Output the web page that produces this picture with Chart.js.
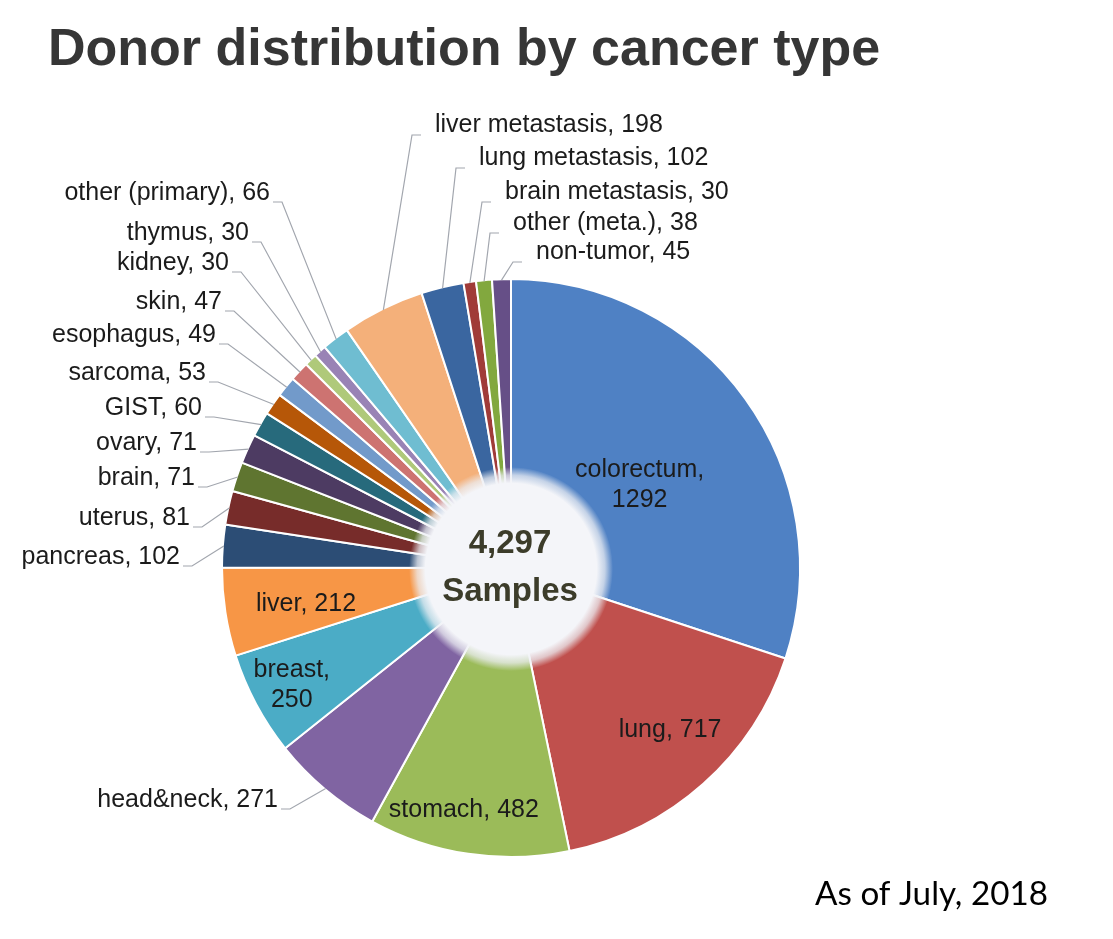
<!DOCTYPE html>
<html>
<head>
<meta charset="utf-8">
<script src="https://cdn.jsdelivr.net/npm/chart.js@4"></script>
<style>
  body { margin: 0; background: #fff; }
  canvas { display: block; }
</style>
</head>
<body>
<canvas id="donorChart" width="1113" height="939"></canvas>
<script>
// Data (clockwise from 12 o'clock)
const cancerTypes = [
    "colorectum", "lung", "stomach", "head&neck", "breast", "liver",
    "pancreas", "uterus", "brain", "ovary", "GIST", "sarcoma",
    "esophagus", "skin", "kidney", "thymus", "other (primary)",
    "liver metastasis", "lung metastasis", "brain metastasis",
    "other (meta.)", "non-tumor"
];
const donorCounts = [
    1292, 717, 482, 271, 250, 212,
    102, 81, 71, 71, 60, 53,
    49, 47, 30, 30, 66,
    198, 102, 30,
    38, 45
];
const sliceColors = [
    "#4F81C4", "#C0504D", "#9BBB59", "#8064A2", "#4BACC6", "#F79646",
    "#2C4D75", "#772C2A", "#5F7530", "#4D3B62", "#276A7C", "#B65708",
    "#729ACA", "#CD7371", "#AFC97A", "#9983B5", "#6FBDD1",
    "#F4B07A", "#3A66A0", "#A03B38",
    "#82A83E", "#664F87"
];

// labels drawn inside the slice: r = fraction of radius, da = angle nudge (deg), split = two lines
const insideLabels = {
    0: { r: 0.53, da: 3, split: true },
    1: { r: 0.785, da: -2.8 },
    2: { r: 0.855, da: 2.5 },
    4: { r: 0.86, da: 0, split: true },
    5: { r: 0.72, da: -1.1 }
};

// outside labels: text anchor (right edge for "left", left edge for "right"), text middle y
const labelSpots = {
    3: { x: 278, y: 800, side: "left" },
    6: { x: 180, y: 557, side: "left" },
    7: { x: 190, y: 518, side: "left" },
    8: { x: 195, y: 478, side: "left" },
    9: { x: 197, y: 443, side: "left" },
    10: { x: 202, y: 408, side: "left" },
    11: { x: 206, y: 373, side: "left" },
    12: { x: 216, y: 335, side: "left" },
    13: { x: 222, y: 302, side: "left" },
    14: { x: 229, y: 263, side: "left" },
    15: { x: 249, y: 233, side: "left" },
    16: { x: 270, y: 193, side: "left" },
    17: { x: 435, y: 125, side: "right" },
    18: { x: 479, y: 158, side: "right" },
    19: { x: 505, y: 192, side: "right" },
    20: { x: 513, y: 223, side: "right" },
    21: { x: 536, y: 252, side: "right" }
};

const totalSamples = donorCounts.reduce((a, b) => a + b, 0);

const decorPlugin = {
    id: "decor",
    afterDatasetsDraw(chart) {
        const ctx = chart.ctx;
        const arcs = chart.getDatasetMeta(0).data;
        const cx = arcs[0].x, cy = arcs[0].y;

        // soft white hub in the middle
        ctx.save();
        const grad = ctx.createRadialGradient(cx, cy + 1, 0, cx, cy + 1, 102);
        grad.addColorStop(0, "rgba(244,245,249,1)");
        grad.addColorStop(0.84, "rgba(244,245,249,1)");
        grad.addColorStop(0.92, "rgba(236,238,243,0.75)");
        grad.addColorStop(1, "rgba(236,238,243,0)");
        ctx.fillStyle = grad;
        ctx.beginPath();
        ctx.arc(cx, cy + 1, 102, 0, Math.PI * 2);
        ctx.fill();

        ctx.fillStyle = "#3c3c2a";
        ctx.font = "bold 33px 'Liberation Sans', Arial, sans-serif";
        ctx.textAlign = "center";
        ctx.textBaseline = "middle";
        ctx.fillText(totalSamples.toLocaleString("en-US"), cx - 1, cy - 24);
        ctx.fillText("Samples", cx - 1, cy + 24);

        // slice labels
        ctx.font = "25px 'Liberation Sans', Arial, sans-serif";
        ctx.fillStyle = "#1b1b1b";
        arcs.forEach((arc, i) => {
            const p = arc.getProps(["x", "y", "startAngle", "endAngle", "outerRadius"], true);
            const mid = (p.startAngle + p.endAngle) / 2;
            const text = cancerTypes[i] + ", " + donorCounts[i];

            if (insideLabels[i]) {
                const spec = insideLabels[i];
                const a = mid + spec.da * Math.PI / 180;
                const r = p.outerRadius * spec.r;
                const lx = p.x + Math.cos(a) * r;
                const ly = p.y + Math.sin(a) * r;
                ctx.textAlign = "center";
                if (spec.split) {
                    ctx.fillText(cancerTypes[i] + ",", lx, ly - 15);
                    ctx.fillText(String(donorCounts[i]), lx, ly + 15);
                } else {
                    ctx.fillText(text, lx, ly);
                }
                return;
            }

            const spot = labelSpots[i];
            if (!spot) return;
            const ex = p.x + Math.cos(mid) * (p.outerRadius - 1);
            const ey = p.y + Math.sin(mid) * (p.outerRadius - 1);

            ctx.strokeStyle = "#a2a6ae";
            ctx.lineWidth = 1.2;
            ctx.beginPath();
            if (spot.side === "left") {
                ctx.moveTo(spot.x + 3, spot.y + 9);
                ctx.lineTo(spot.x + 12, spot.y + 9);
            } else {
                ctx.moveTo(spot.x - 14, spot.y + 10);
                ctx.lineTo(spot.x - 23, spot.y + 10);
            }
            ctx.lineTo(ex, ey);
            ctx.stroke();

            ctx.textAlign = spot.side === "left" ? "right" : "left";
            ctx.fillText(text, spot.x, spot.y);
        });

        // title
        ctx.textAlign = "left";
        ctx.textBaseline = "alphabetic";
        ctx.fillStyle = "#363636";
        ctx.font = "bold 52px 'Liberation Sans', Arial, sans-serif";
        ctx.fillText("Donor distribution by cancer type", 48, 65);

        // date note, squeezed to the reference width
        ctx.fillStyle = "#000";
        ctx.font = "32px Lato, 'Open Sans', sans-serif";
        const note = "As of July, 2018";
        const w = ctx.measureText(note).width;
        ctx.translate(815, 905);
        ctx.scale(233 / w, 1);
        ctx.fillText(note, 0, 0);
        ctx.restore();
    }
};

const ctx = document.getElementById("donorChart").getContext("2d");
const donorChart = new Chart(ctx, {
    type: "pie",
    data: {
        labels: cancerTypes,
        datasets: [{
            data: donorCounts,
            backgroundColor: sliceColors,
            borderColor: "#ffffff",
            borderWidth: 2
        }]
    },
    options: {
        responsive: false,
        animation: false,
        radius: 289,
        layout: { padding: { left: 0, right: 91, top: 197, bottom: 0 } },
        plugins: {
            legend: { display: false },
            tooltip: { enabled: false },
            title: { display: false }
        }
    },
    plugins: [decorPlugin]
});
</script>
</body>
</html>
